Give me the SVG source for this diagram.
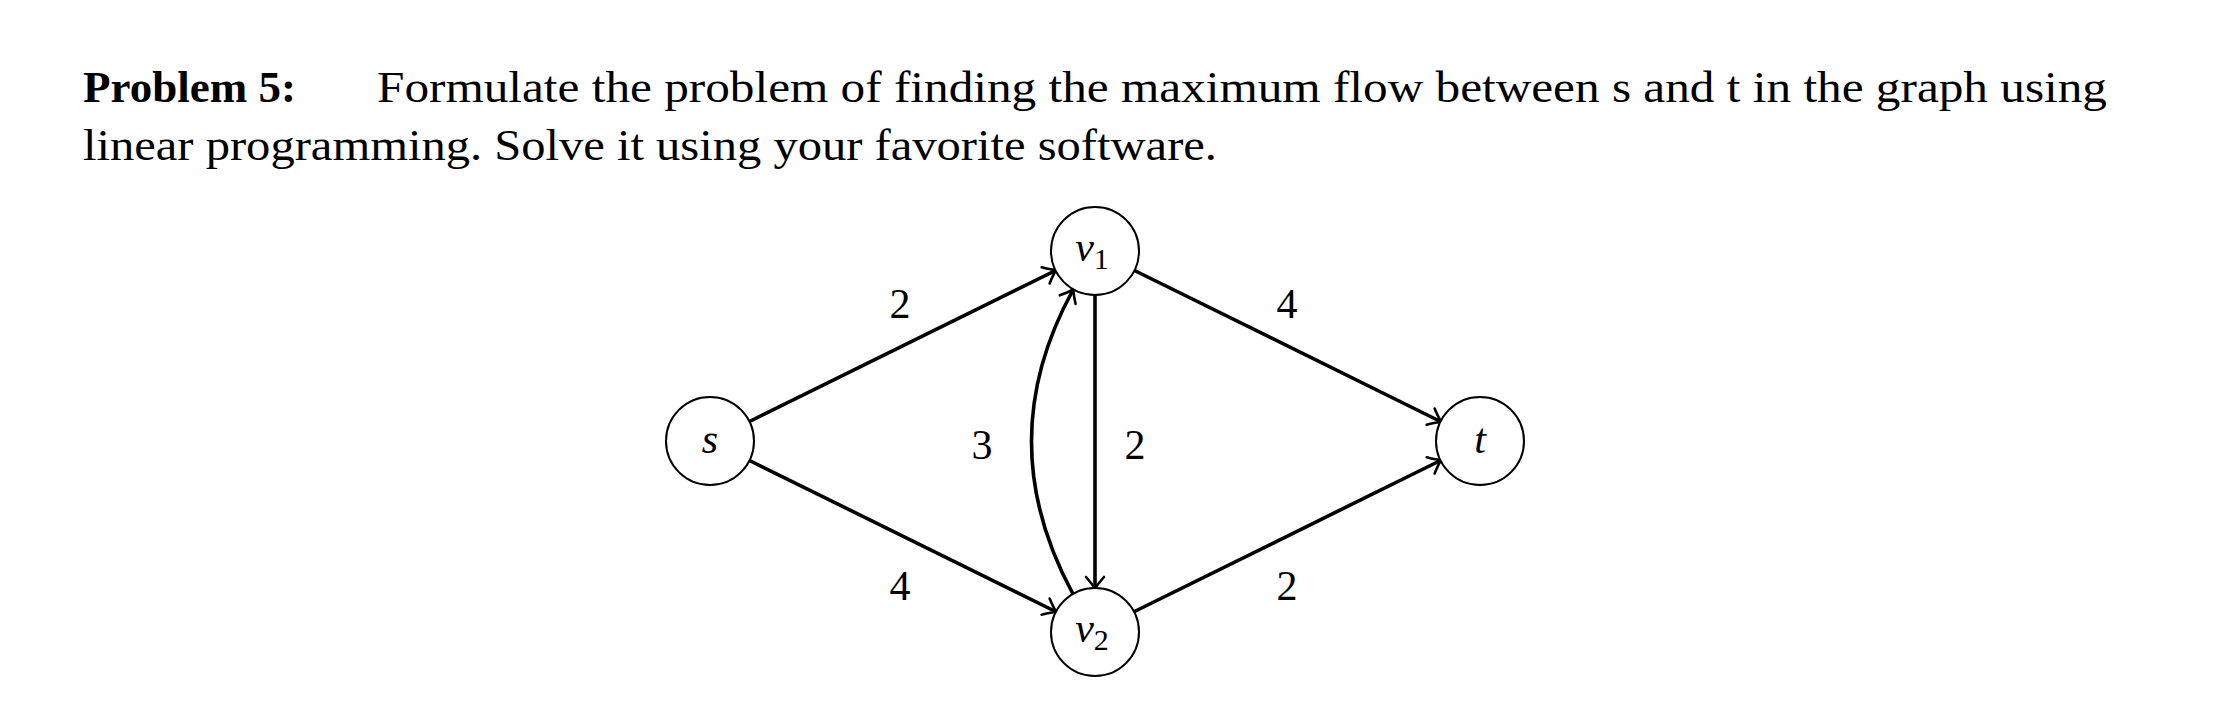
<svg xmlns="http://www.w3.org/2000/svg" width="2232" height="705" viewBox="0 0 2232 705">
<style>
.t{font-family:"Liberation Serif","Times New Roman",serif;font-size:45px;fill:#000}
.n{fill:#fff;stroke:#000;stroke-width:2}
.l{font-family:"Liberation Serif","Times New Roman",serif;font-size:42px;text-anchor:middle;fill:#000}
.e{fill:none;stroke:#000;stroke-width:3.6;marker-end:url(#a)}
</style>
<defs>
<marker id="a" markerUnits="userSpaceOnUse" markerWidth="30" markerHeight="30" viewBox="-15 -15 30 30" refX="0" refY="0" orient="auto">
<path d="M-11,-9 Q-3,-2 1,0 Q-3,2 -11,9" fill="none" stroke="#000" stroke-width="2.6" stroke-linecap="round"/>
</marker>
</defs>
<rect width="2232" height="705" fill="#fff"/>
<text class="t" x="83" y="102" font-weight="bold" font-family="Liberation Serif, serif">Problem 5:</text>
<text class="t" x="377" y="102" textLength="1730" lengthAdjust="spacingAndGlyphs" font-family="Liberation Serif, serif">Formulate the problem of finding the maximum flow between s and t in the graph using</text>
<text class="t" x="83" y="160" textLength="1134" lengthAdjust="spacingAndGlyphs" font-family="Liberation Serif, serif">linear programming. Solve it using your favorite software.</text>
<g id="edges" font-family="Liberation Serif, serif">
<line class="e" x1="749.5" y1="421.5" x2="1055.5" y2="270.5"/>
<line class="e" x1="749.5" y1="460.5" x2="1055.5" y2="611.5"/>
<line class="e" x1="1134.5" y1="270.5" x2="1440.5" y2="421.5"/>
<line class="e" x1="1134.5" y1="611.5" x2="1440.5" y2="460.5"/>
<line class="e" x1="1095" y1="295" x2="1095" y2="588"/>
<path class="e" d="M1073,594 Q990,441 1073,290"/>
<text class="l" font-family="Liberation Serif, serif" x="900" y="318">2</text>
<text class="l" font-family="Liberation Serif, serif" x="1287" y="318">4</text>
<text class="l" font-family="Liberation Serif, serif" x="982" y="459">3</text>
<text class="l" font-family="Liberation Serif, serif" x="1135" y="459">2</text>
<text class="l" font-family="Liberation Serif, serif" x="900" y="600">4</text>
<text class="l" font-family="Liberation Serif, serif" x="1287" y="600">2</text>
</g>
<g id="s"><circle class="n" cx="710" cy="441" r="44"/><text class="l" font-family="Liberation Serif, serif" x="710" y="453" font-style="italic">s</text></g>
<g id="v1"><circle class="n" cx="1095" cy="251" r="44"/><text class="l" font-family="Liberation Serif, serif" x="1092" y="261" font-style="italic">v<tspan font-style="normal" font-size="30" dy="8">1</tspan></text></g>
<g id="v2"><circle class="n" cx="1095" cy="632" r="44"/><text class="l" font-family="Liberation Serif, serif" x="1092" y="642" font-style="italic">v<tspan font-style="normal" font-size="30" dy="8">2</tspan></text></g>
<g id="t"><circle class="n" cx="1480" cy="441" r="44"/><text class="l" font-family="Liberation Serif, serif" x="1480" y="453" font-style="italic">t</text></g>
</svg>
